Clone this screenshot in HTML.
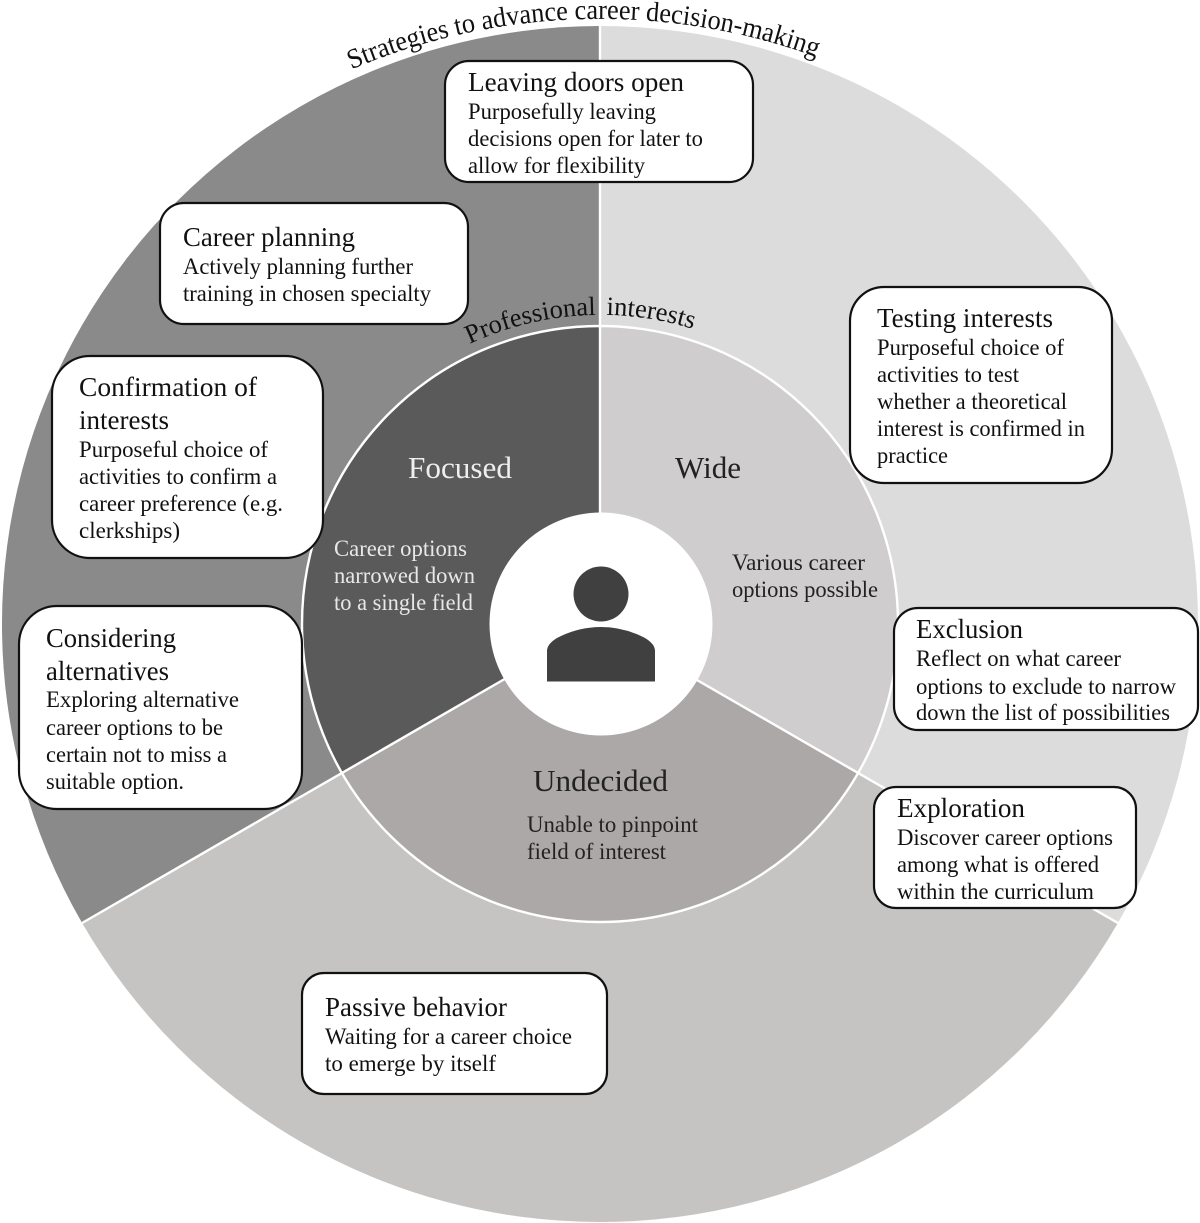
<!DOCTYPE html>
<html><head><meta charset="utf-8"><style>
html,body{margin:0;padding:0;background:#fff}
svg{display:block}
text{font-family:"Liberation Serif",serif;fill:#111}
.t{font-size:27.5px}.b{font-size:23.5px}
.box{fill:#fff;stroke:#111;stroke-width:2.2}
</style></head><body>
<svg width="1200" height="1223" viewBox="0 0 1200 1223" xmlns="http://www.w3.org/2000/svg">
<defs>
<path id="arc1" d="M351.6 69.4 A635 635 0 0 1 820.3 58.4" fill="none"/>
<path id="arc2" d="M469.6 344 A309 309 0 0 1 693 329" fill="none"/>
</defs>
<path d="M600 624 L600 26 A598 598 0 0 0 82.1 923 Z" fill="#8a8a8a"/>
<path d="M600 624 L600 26 A598 598 0 0 1 1117.9 923 Z" fill="#dcdcdc"/>
<path d="M600 624 L1117.9 923 A598 598 0 0 1 82.1 923 Z" fill="#c5c4c3"/>
<path d="M600 624 L600 326 A298 298 0 0 0 342 773 Z" fill="#5a5a5a"/>
<path d="M600 624 L600 326 A298 298 0 0 1 858 773 Z" fill="#cfcdce"/>
<path d="M600 624 L858 773 A298 298 0 0 1 342 773 Z" fill="#aba8a7"/>
<g stroke="#fff" stroke-width="2.4" fill="none">
<circle cx="600" cy="624" r="298"/>
<line x1="600" y1="26" x2="600" y2="624"/>
<line x1="600" y1="624" x2="1117.9" y2="923"/>
<line x1="600" y1="624" x2="82.1" y2="923"/>
</g>
<circle cx="601" cy="624" r="111.5" fill="#fff"/>
<circle cx="601" cy="594" r="27.5" fill="#404040"/>
<path d="M547 681.5 V651 Q547 644 557 638 Q578 627 601 627 Q624 627 645 638 Q655 644 655 651 V681.5 Z" fill="#404040"/>

<text style="font-size:28px"><textPath href="#arc1" textLength="476" lengthAdjust="spacingAndGlyphs">Strategies to advance career decision-making</textPath></text>
<text style="font-size:26.5px;word-spacing:4px"><textPath href="#arc2" textLength="229" lengthAdjust="spacingAndGlyphs">Professional interests</textPath></text>

<text x="408" y="478" textLength="104" lengthAdjust="spacingAndGlyphs" style="font-size:31px;fill:#eee">Focused</text>
<text x="675" y="478" textLength="66" lengthAdjust="spacingAndGlyphs" style="font-size:31px;fill:#222">Wide</text>
<text x="533" y="791" textLength="135" lengthAdjust="spacingAndGlyphs" style="font-size:31px;fill:#222">Undecided</text>
<g class="b">
<text x="334" y="556" textLength="133" lengthAdjust="spacingAndGlyphs" style="fill:#e8e8e8">Career options</text>
<text x="334" y="583" textLength="141" lengthAdjust="spacingAndGlyphs" style="fill:#e8e8e8">narrowed down</text>
<text x="334" y="610" textLength="139" lengthAdjust="spacingAndGlyphs" style="fill:#e8e8e8">to a single field</text>
<text x="732" y="570" textLength="133" lengthAdjust="spacingAndGlyphs" style="fill:#222">Various career</text>
<text x="732" y="597" textLength="146" lengthAdjust="spacingAndGlyphs" style="fill:#222">options possible</text>
<text x="527" y="832" textLength="171" lengthAdjust="spacingAndGlyphs" style="fill:#222">Unable to pinpoint</text>
<text x="527" y="859" textLength="139" lengthAdjust="spacingAndGlyphs" style="fill:#222">field of interest</text>
</g>

<rect class="box" x="445" y="61" width="308" height="121" rx="24"/>
<rect class="box" x="160" y="203" width="308" height="121" rx="24"/>
<rect class="box" x="52" y="356" width="271" height="202" rx="38"/>
<rect class="box" x="19" y="606" width="283" height="203" rx="38"/>
<rect class="box" x="850" y="287" width="262" height="196" rx="34"/>
<rect class="box" x="894" y="608" width="304" height="122" rx="24"/>
<rect class="box" x="874" y="787" width="262" height="121" rx="22"/>
<rect class="box" x="302" y="973" width="305" height="121" rx="22"/>

<g class="t">
<text x="468" y="91" textLength="216" lengthAdjust="spacingAndGlyphs">Leaving doors open</text>
<text x="183" y="246" textLength="172" lengthAdjust="spacingAndGlyphs">Career planning</text>
<text x="79" y="396" textLength="178" lengthAdjust="spacingAndGlyphs">Confirmation of</text>
<text x="79" y="429" textLength="90" lengthAdjust="spacingAndGlyphs">interests</text>
<text x="46" y="647" textLength="130" lengthAdjust="spacingAndGlyphs">Considering</text>
<text x="46" y="680" textLength="123" lengthAdjust="spacingAndGlyphs">alternatives</text>
<text x="877" y="327" textLength="176" lengthAdjust="spacingAndGlyphs">Testing interests</text>
<text x="916" y="638" textLength="107" lengthAdjust="spacingAndGlyphs">Exclusion</text>
<text x="897" y="817" textLength="128" lengthAdjust="spacingAndGlyphs">Exploration</text>
<text x="325" y="1016" textLength="182" lengthAdjust="spacingAndGlyphs">Passive behavior</text>
</g>
<g class="b">
<text x="468" y="119" textLength="188" lengthAdjust="spacingAndGlyphs">Purposefully leaving</text>
<text x="468" y="146" textLength="235" lengthAdjust="spacingAndGlyphs">decisions open for later to</text>
<text x="468" y="173" textLength="177" lengthAdjust="spacingAndGlyphs">allow for flexibility</text>
<text x="183" y="274" textLength="230" lengthAdjust="spacingAndGlyphs">Actively planning further</text>
<text x="183" y="301" textLength="248" lengthAdjust="spacingAndGlyphs">training in chosen specialty</text>
<text x="79" y="457" textLength="189" lengthAdjust="spacingAndGlyphs">Purposeful choice of</text>
<text x="79" y="484" textLength="198" lengthAdjust="spacingAndGlyphs">activities to confirm a</text>
<text x="79" y="511" textLength="204" lengthAdjust="spacingAndGlyphs">career preference (e.g.</text>
<text x="79" y="538" textLength="101" lengthAdjust="spacingAndGlyphs">clerkships)</text>
<text x="46" y="707" textLength="193" lengthAdjust="spacingAndGlyphs">Exploring alternative</text>
<text x="46" y="735" textLength="177" lengthAdjust="spacingAndGlyphs">career options to be</text>
<text x="46" y="762" textLength="181" lengthAdjust="spacingAndGlyphs">certain not to miss a</text>
<text x="46" y="789" textLength="138" lengthAdjust="spacingAndGlyphs">suitable option.</text>
<text x="877" y="355" textLength="187" lengthAdjust="spacingAndGlyphs">Purposeful choice of</text>
<text x="877" y="382" textLength="142" lengthAdjust="spacingAndGlyphs">activities to test</text>
<text x="877" y="409" textLength="190" lengthAdjust="spacingAndGlyphs">whether a theoretical</text>
<text x="877" y="436" textLength="208" lengthAdjust="spacingAndGlyphs">interest is confirmed in</text>
<text x="877" y="463" textLength="71" lengthAdjust="spacingAndGlyphs">practice</text>
<text x="916" y="666" textLength="205" lengthAdjust="spacingAndGlyphs">Reflect on what career</text>
<text x="916" y="694" textLength="260" lengthAdjust="spacingAndGlyphs">options to exclude to narrow</text>
<text x="916" y="720" textLength="254" lengthAdjust="spacingAndGlyphs">down the list of possibilities</text>
<text x="897" y="845" textLength="216" lengthAdjust="spacingAndGlyphs">Discover career options</text>
<text x="897" y="872" textLength="202" lengthAdjust="spacingAndGlyphs">among what is offered</text>
<text x="897" y="899" textLength="197" lengthAdjust="spacingAndGlyphs">within the curriculum</text>
<text x="325" y="1044" textLength="247" lengthAdjust="spacingAndGlyphs">Waiting for a career choice</text>
<text x="325" y="1071" textLength="171" lengthAdjust="spacingAndGlyphs">to emerge by itself</text>
</g>
</svg>
</body></html>
